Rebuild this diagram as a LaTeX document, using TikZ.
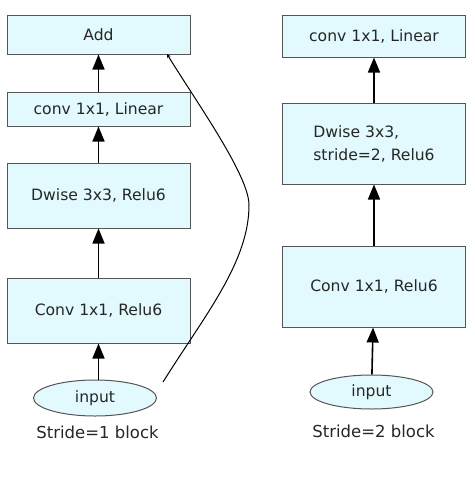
\documentclass[tikz,border=0pt]{standalone}
\usepackage{fontspec}
\setmainfont{DejaVu Sans}
\usetikzlibrary{arrows.meta,shapes.geometric}
\definecolor{boxfill}{HTML}{E2FAFD}
\definecolor{boxline}{HTML}{555555}
\begin{document}
\begin{tikzpicture}[x=1pt,y=-1pt,
  blk/.style={draw=boxline,fill=boxfill,line width=1pt,minimum width=183pt,inner sep=0pt,
    font=\fontsize{15.6}{23}\selectfont,text=black!85},
  inp/.style={ellipse,draw=boxline,fill=boxfill,line width=1pt,minimum width=123pt,inner sep=0pt,
    font=\fontsize{15.6}{19}\selectfont,text=black!85},
  lbl/.style={font=\fontsize{16.5}{20}\selectfont,text=black!85,inner sep=0pt},
  arr/.style={line width=1.6pt,-{Triangle[length=15pt,width=12pt]}},
  skip/.style={line width=1pt,-{Stealth[length=4pt,width=4pt]}}]
\useasboundingbox (0,0) rectangle (474,479);
% left column
\node[blk,minimum height=39pt] (add) at (98.5,34.5) {Add};
\node[blk,minimum height=34pt] (lin1) at (98.5,109) {conv 1x1, Linear};
\node[blk,minimum height=65pt] (dw1) at (98.5,195.5) {Dwise 3x3, Relu6};
\node[blk,minimum height=65pt] (cv1) at (98.5,310.5) {Conv 1x1, Relu6};
\node[inp,minimum height=36pt] (in1) at (95,398) {input};
\node[lbl] (lab1) at (97.5,432) {Stride=1 block};
\draw[arr] (cv1.south |- in1.north) -- (cv1.south);
\draw[arr] (cv1) -- (dw1);
\draw[arr] (dw1) -- (lin1);
\draw[arr] (lin1) -- (add);
\coordinate (s1) at (163,382);
\coordinate (e1) at (167,54);
\draw[skip] (s1) .. controls (205,315) and (249,262) .. (249,205)
  .. controls (249,175) and (195,100) .. (e1);
% right column
\node[blk,minimum height=42pt] (lin2) at (374,36) {conv 1x1, Linear};
\node[blk,minimum height=81pt,align=left] (dw2) at (374,143.5) {Dwise 3x3,\\stride=2, Relu6};
\node[blk,minimum height=81pt] (cv2) at (374,286.5) {Conv 1x1, Relu6};
\node[inp,minimum height=34pt] (in2) at (371.5,392) {input};
\node[lbl] (lab2) at (373.5,431) {Stride=2 block};
\draw[arr] (in2) -- (cv2);
\draw[arr] (cv2) -- (dw2);
\draw[arr] (dw2) -- (lin2);
\end{tikzpicture}
\end{document}
